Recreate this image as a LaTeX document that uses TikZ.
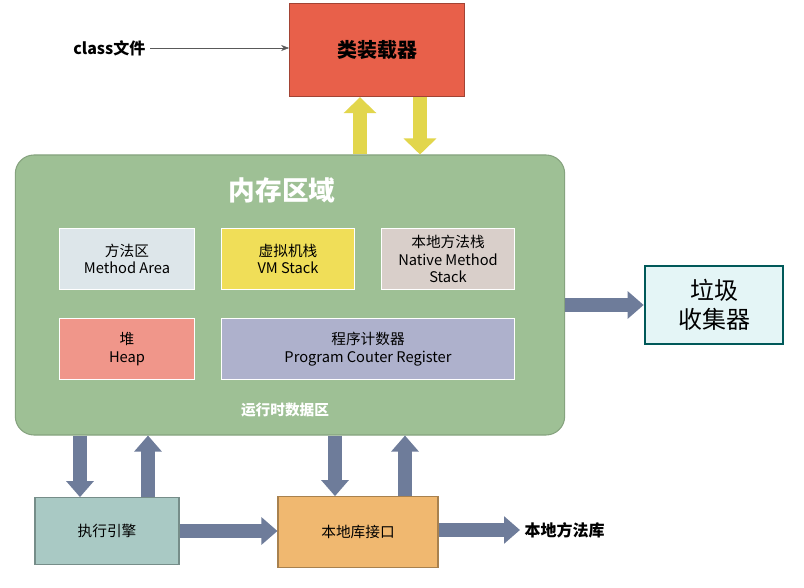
\documentclass[tikz,border=0pt]{standalone}
\usepackage{fontspec}
\setmainfont{Noto Sans CJK SC}
\usetikzlibrary{arrows.meta,calc}
\begin{document}
\begin{tikzpicture}[x=0.75pt,y=-0.75pt,
 box/.style={draw=#1!70!black,line width=0.8pt,fill=#1,align=center,font=\fontsize{11}{13}\selectfont,inner sep=0pt},
 fat/.style={draw=arrowc,line width=10pt,-{Triangle[length=12pt,width=20pt]},shorten >=0pt},
 yel/.style={draw=yelc,line width=11pt,-{Triangle[length=12pt,width=24pt]}}]
\definecolor{arrowc}{HTML}{6E7C9A}
\definecolor{yelc}{HTML}{E2D64C}
\definecolor{memc}{HTML}{9EC095}
\definecolor{loadc}{HTML}{E8604A}
\definecolor{mac}{HTML}{DDE6EA}
\definecolor{vmc}{HTML}{F0DE58}
\definecolor{nmc}{HTML}{D9CFCA}
\definecolor{heapc}{HTML}{F0968A}
\definecolor{pcc}{HTML}{AEB1CC}
\definecolor{gcc}{HTML}{E4F5F6}
\definecolor{exc}{HTML}{A9C9C4}
\definecolor{nic}{HTML}{F0B870}
\useasboundingbox (0,0) rectangle (804,588);
\fill[white] (0,0) rectangle (804,588);
\coordinate (x80) at (80,0);
\coordinate (x148) at (148,0);
\coordinate (x335) at (335,0);
\coordinate (x405) at (405,0);
\coordinate (x360) at (360,0);
\coordinate (x420) at (420,0);
\node[box=loadc,minimum width=131pt,minimum height=70pt,font=\fontsize{15}{18}\selectfont\bfseries] (load) at (377,50) {类装载器};
\node[font=\fontsize{12}{14}\selectfont\bfseries,anchor=east] (cls) at (150,48) {class文件};
\draw[-{Stealth[length=6pt]},gray!70!black] (cls.east) -- (load.west |- cls.east);
\node[box=memc,draw=memc!85!black,rounded corners=14pt,minimum width=412pt,minimum height=210pt] (mem) at (290,295) {};
\node[white,font=\fontsize{20}{22}\selectfont\bfseries] (memt) at (282,190) {内存区域};
\node[box=mac,draw=white,minimum width=101pt,minimum height=46pt] (ma) at (127,259) {方法区\\Method Area};
\node[box=vmc,draw=white,minimum width=100pt,minimum height=46pt] (vm) at (288,259) {虚拟机栈\\VM Stack};
\node[box=nmc,draw=white,minimum width=100pt,minimum height=46pt] (nm) at (448,259) {本地方法栈\\Native Method\\Stack};
\node[box=heapc,draw=white,minimum width=101pt,minimum height=46pt] (heap) at (127,349) {堆\\Heap};
\node[box=pcc,draw=white,minimum width=220pt,minimum height=46pt] (pc) at (368,349) {程序计数器\\Program Couter Register};
\node[white,font=\fontsize{11}{13}\selectfont\bfseries] (rt) at (285,410) {运行时数据区};
\node[box=gcc,draw=teal!70!black,line width=1.5pt,minimum width=104pt,minimum height=58pt,font=\fontsize{18}{22}\selectfont] (gc) at (714,305) {垃圾\\收集器};
\node[box=exc,minimum width=108pt,minimum height=50pt] (ex) at (107,531) {执行引擎};
\node[box=nic,minimum width=120pt,minimum height=53pt] (ni) at (358,532) {本地库接口};
\node[font=\fontsize{12}{14}\selectfont\bfseries,anchor=west] (nlib) at (520,530) {本地方法库};
\draw[yel] (x360 |- mem.north) -- (x360 |- load.south);
\draw[yel] (x420 |- load.south) -- (x420 |- mem.north);
\draw[fat] (mem.east |- gc) -- (gc.west);
\draw[fat] (x80 |- mem.south) -- (x80 |- ex.north);
\draw[fat] (x148 |- ex.north) -- (x148 |- mem.south);
\draw[fat] (x335 |- mem.south) -- (x335 |- ni.north);
\draw[fat] (x405 |- ni.north) -- (x405 |- mem.south);
\draw[fat] (ex.east) -- (ni.west |- ex.east);
\draw[fat] (ni.east |- nlib) -- (nlib.west);
\end{tikzpicture}
\end{document}
